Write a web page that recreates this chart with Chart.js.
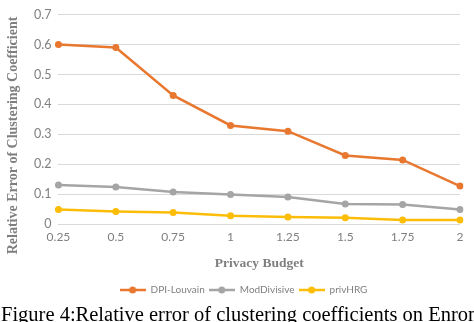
<!DOCTYPE html>
<html>
<head>
<meta charset="utf-8">
<script src="https://cdn.jsdelivr.net/npm/chart.js@4"></script>
<style>
  body { margin: 0; background: #fff; overflow: hidden; }
  #wrap { position: relative; width: 474px; height: 322px; }
  #box { position: absolute; left: 0; top: 0; width: 474px; height: 305px; }
  #caption { position: absolute; left: 1px; top: 303px; white-space: nowrap;
    font-family: "Liberation Serif", serif; font-size: 20.5px; color: #000; }
</style>
</head>
<body>
<div id="wrap">
  <div id="box"><canvas id="grafico"></canvas></div>
  <div id="caption">Figure 4:Relative error of clustering coefficients on Enron</div>
</div>
<script>
// datos
const presupuestos = ['0.25', '0.5', '0.75', '1', '1.25', '1.5', '1.75', '2'];
const dpiLouvain = [0.600, 0.590, 0.430, 0.330, 0.311, 0.230, 0.215, 0.128];
const modDivisive = [0.131, 0.125, 0.108, 0.100, 0.091, 0.068, 0.066, 0.050];
const privHRG = [0.050, 0.043, 0.040, 0.029, 0.025, 0.022, 0.015, 0.015];

const colores = ['#e8782f', '#a5a5a5', '#fcbd08'];
const tituloY = 'Relative Error of Clustering Coefficient';

// icono de leyenda: linea con circulo
function iconoLeyenda(color) {
    const c = document.createElement('canvas');
    c.width = 26; c.height = 10;
    const ctx = c.getContext('2d');
    ctx.strokeStyle = color;
    ctx.lineWidth = 2.5;
    ctx.beginPath();
    ctx.moveTo(0, 5); ctx.lineTo(26, 5);
    ctx.stroke();
    ctx.fillStyle = color;
    ctx.beginPath();
    ctx.arc(13, 5, 3.5, 0, Math.PI * 2);
    ctx.fill();
    return c;
}

function serie(label, data, color) {
    return {
        label: label,
        data: data,
        borderColor: color,
        backgroundColor: color,
        borderWidth: 2.5,
        pointRadius: 3.5,
        pointHoverRadius: 3.5,
        pointBackgroundColor: color,
        pointBorderWidth: 0,
        tension: 0
    };
}

// titulo del eje Y, un poco mas abajo que el centro del area (como en Excel)
const tituloEjeY = {
    id: 'tituloEjeY',
    afterDraw(chart) {
        const c = chart.ctx;
        const a = chart.chartArea;
        const centro = (a.top + a.bottom) / 2 + 16;
        c.save();
        c.translate(13, centro);
        c.rotate(-Math.PI / 2);
        c.font = 'bold 14px "Liberation Serif"';
        c.fillStyle = '#7f7f7f';
        c.textAlign = 'center';
        c.textBaseline = 'middle';
        c.fillText(tituloY, 0, 0);
        c.restore();
    }
};

const ctx = document.getElementById('grafico').getContext('2d');
new Chart(ctx, {
    type: 'line',
    data: {
        labels: presupuestos,
        datasets: [
            serie('DPI-Louvain', dpiLouvain, colores[0]),
            serie('ModDivisive', modDivisive, colores[1]),
            serie('privHRG', privHRG, colores[2])
        ]
    },
    options: {
        responsive: true,
        maintainAspectRatio: false,
        animation: false,
        layout: { padding: { left: 27, right: 14, top: 5, bottom: 0 } },
        plugins: {
            tooltip: { enabled: false },
            legend: {
                position: 'bottom',
                labels: {
                    usePointStyle: true,
                    pointStyleWidth: 26,
                    boxHeight: 10,
                    padding: 4,
                    color: '#7f7f7f',
                    font: { family: 'Lato', size: 10 },
                    generateLabels: chart => chart.data.datasets.map((d, i) => ({
                        text: d.label,
                        pointStyle: iconoLeyenda(d.borderColor),
                        fillStyle: d.borderColor,
                        strokeStyle: d.borderColor,
                        fontColor: '#7f7f7f',
                        lineWidth: 0,
                        datasetIndex: i
                    }))
                }
            }
        },
        scales: {
            x: {
                offset: false,
                grid: { display: false, drawTicks: false },
                border: { display: false },
                ticks: { color: '#7f7f7f', font: { family: 'Lato', size: 12 }, padding: 6, maxRotation: 0 },
                title: {
                    display: true,
                    text: 'Privacy Budget',
                    color: '#7f7f7f',
                    font: { family: 'Liberation Serif', size: 13.5, weight: 'bold' },
                    padding: { top: 5, bottom: 9 }
                }
            },
            y: {
                min: 0,
                max: 0.7,
                grid: { color: '#d9d9d9', lineWidth: 1, drawTicks: false },
                border: { display: false },
                ticks: { stepSize: 0.1, color: '#7f7f7f', font: { family: 'Lato', size: 12.5 }, padding: 7 },
                title: { display: false }
            }
        }
    },
    plugins: [tituloEjeY]
});
</script>
</body>
</html>
